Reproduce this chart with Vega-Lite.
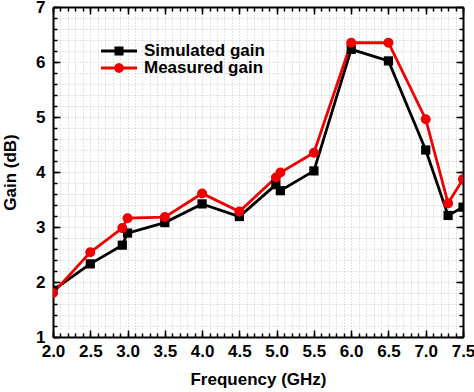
{
  "$schema": "https://vega.github.io/schema/vega-lite/v6.json",
  "width": 410,
  "height": 330,
  "autosize": {"type": "none"},
  "padding": {"left": 53, "top": 7, "right": 11, "bottom": 55},
  "background": "white",
  "config": {
    "view": {"stroke": null},
    "font": "Liberation Sans",
    "axis": {"labelFont": "Liberation Sans", "titleFont": "Liberation Sans", "labelFontWeight": "bold", "titleFontWeight": "bold", "labelColor": "black", "titleColor": "black", "labelFontSize": 17, "titleFontSize": 17, "domainColor": "black", "tickColor": "black", "domainWidth": 2, "tickWidth": 1.5, "labelFlush": false}
  },
  "data": {"values": [
    {"f": 2.0, "g": 1.85, "s": "Simulated gain"},
    {"f": 2.5, "g": 2.33, "s": "Simulated gain"},
    {"f": 2.93, "g": 2.67, "s": "Simulated gain"},
    {"f": 3.0, "g": 2.89, "s": "Simulated gain"},
    {"f": 3.5, "g": 3.08, "s": "Simulated gain"},
    {"f": 4.0, "g": 3.42, "s": "Simulated gain"},
    {"f": 4.5, "g": 3.19, "s": "Simulated gain"},
    {"f": 4.99, "g": 3.77, "s": "Simulated gain"},
    {"f": 5.05, "g": 3.66, "s": "Simulated gain"},
    {"f": 5.5, "g": 4.02, "s": "Simulated gain"},
    {"f": 6.0, "g": 6.23, "s": "Simulated gain"},
    {"f": 6.5, "g": 6.02, "s": "Simulated gain"},
    {"f": 7.0, "g": 4.40, "s": "Simulated gain"},
    {"f": 7.3, "g": 3.21, "s": "Simulated gain"},
    {"f": 7.5, "g": 3.36, "s": "Simulated gain"},
    {"f": 2.0, "g": 1.80, "s": "Measured gain"},
    {"f": 2.5, "g": 2.54, "s": "Measured gain"},
    {"f": 2.93, "g": 2.98, "s": "Measured gain"},
    {"f": 3.0, "g": 3.16, "s": "Measured gain"},
    {"f": 3.5, "g": 3.18, "s": "Measured gain"},
    {"f": 4.0, "g": 3.61, "s": "Measured gain"},
    {"f": 4.5, "g": 3.28, "s": "Measured gain"},
    {"f": 4.99, "g": 3.90, "s": "Measured gain"},
    {"f": 5.05, "g": 3.99, "s": "Measured gain"},
    {"f": 5.5, "g": 4.35, "s": "Measured gain"},
    {"f": 6.0, "g": 6.35, "s": "Measured gain"},
    {"f": 6.5, "g": 6.35, "s": "Measured gain"},
    {"f": 7.0, "g": 4.96, "s": "Measured gain"},
    {"f": 7.3, "g": 3.43, "s": "Measured gain"},
    {"f": 7.5, "g": 3.87, "s": "Measured gain"}
  ]},
  "resolve": {"axis": {"x": "independent", "y": "independent"}},
  "layer": [
    {
      "mark": {"type": "line", "strokeOpacity": 0},
      "encoding": {
        "x": {"field": "f", "type": "quantitative", "scale": {"domain": [2, 7.5], "nice": false, "zero": false},
          "axis": {"orient": "bottom", "values": [2.0,2.1,2.2,2.3,2.4,2.5,2.6,2.7,2.8,2.9,3.0,3.1,3.2,3.3,3.4,3.5,3.6,3.7,3.8,3.9,4.0,4.1,4.2,4.3,4.4,4.5,4.6,4.7,4.8,4.9,5.0,5.1,5.2,5.3,5.4,5.5,5.6,5.7,5.8,5.9,6.0,6.1,6.2,6.3,6.4,6.5,6.6,6.7,6.8,6.9,7.0,7.1,7.2,7.3,7.4,7.5], "grid": true, "gridColor": "#c8c8c8", "gridDash": [1, 2], "gridWidth": 1, "tickSize": -4, "labels": false, "domain": false, "title": null}},
        "y": {"field": "g", "type": "quantitative", "scale": {"domain": [1, 7], "nice": false, "zero": false},
          "axis": {"orient": "left", "values": [1,1.2,1.4,1.6,1.8,2,2.2,2.4,2.6,2.8,3,3.2,3.4,3.6,3.8,4,4.2,4.4,4.6,4.8,5,5.2,5.4,5.6,5.8,6,6.2,6.4,6.6,6.8,7], "grid": true, "gridColor": "#c8c8c8", "gridDash": [1, 2], "gridWidth": 1, "tickSize": -4, "labels": false, "domain": false, "title": null}},
        "detail": {"field": "s"}
      }
    },
    {
      "mark": {"type": "line", "strokeOpacity": 0},
      "encoding": {
        "x": {"field": "f", "type": "quantitative",
          "axis": {"orient": "top", "values": [2.0,2.1,2.2,2.3,2.4,2.5,2.6,2.7,2.8,2.9,3.0,3.1,3.2,3.3,3.4,3.5,3.6,3.7,3.8,3.9,4.0,4.1,4.2,4.3,4.4,4.5,4.6,4.7,4.8,4.9,5.0,5.1,5.2,5.3,5.4,5.5,5.6,5.7,5.8,5.9,6.0,6.1,6.2,6.3,6.4,6.5,6.6,6.7,6.8,6.9,7.0,7.1,7.2,7.3,7.4,7.5], "grid": false, "tickSize": -4, "labels": false, "domain": true, "title": null}},
        "y": {"field": "g", "type": "quantitative",
          "axis": {"orient": "right", "values": [1,1.2,1.4,1.6,1.8,2,2.2,2.4,2.6,2.8,3,3.2,3.4,3.6,3.8,4,4.2,4.4,4.6,4.8,5,5.2,5.4,5.6,5.8,6,6.2,6.4,6.6,6.8,7], "grid": false, "tickSize": -4, "labels": false, "domain": true, "title": null}},
        "detail": {"field": "s"}
      }
    },
    {
      "mark": {"type": "line", "strokeOpacity": 0},
      "encoding": {
        "x": {"field": "f", "type": "quantitative",
          "axis": {"orient": "top", "values": [2.0,2.5,3.0,3.5,4.0,4.5,5.0,5.5,6.0,6.5,7.0,7.5], "grid": false, "tickSize": -7, "labels": false, "domain": false, "title": null}},
        "y": {"field": "g", "type": "quantitative",
          "axis": {"orient": "right", "values": [1,2,3,4,5,6,7], "grid": false, "tickSize": -7, "labels": false, "domain": false, "title": null}},
        "detail": {"field": "s"}
      }
    },
    {
      "mark": {"type": "line", "strokeWidth": 2.8, "clip": true},
      "encoding": {
        "x": {"field": "f", "type": "quantitative",
          "axis": {"orient": "bottom", "values": [2.0,2.5,3.0,3.5,4.0,4.5,5.0,5.5,6.0,6.5,7.0,7.5], "format": ".1f", "grid": false, "tickSize": -7, "labelPadding": 13, "domain": true, "title": "Frequency (GHz)", "titlePadding": 12}},
        "y": {"field": "g", "type": "quantitative",
          "axis": {"orient": "left", "values": [1,2,3,4,5,6,7], "format": "d", "grid": false, "tickSize": -7, "labelPadding": 15, "domain": true, "title": "Gain (dB)", "titlePadding": 16}},
        "color": {"field": "s", "type": "nominal", "sort": ["Simulated gain", "Measured gain"],
          "scale": {"domain": ["Simulated gain", "Measured gain"], "range": ["#000000", "#ee0000"]},
          "legend": {"title": null, "orient": "none", "legendX": 57, "legendY": 35, "padding": 0, "symbolSize": 324, "symbolStrokeWidth": 0, "labelOffset": 16, "rowPadding": -9, "labelFont": "Liberation Sans", "labelFontWeight": "bold", "labelFontSize": 17, "labelColor": "black"}},
        "order": {"field": "f"}
      }
    },
    {
      "transform": [{"filter": "datum.s === 'Simulated gain'"}],
      "mark": {"type": "point", "filled": true, "shape": "square", "size": 85, "opacity": 1, "color": "#000000", "clip": true},
      "encoding": {
        "x": {"field": "f", "type": "quantitative", "axis": {"orient": "bottom", "labels": false, "ticks": false, "domain": false, "grid": false, "title": null}},
        "y": {"field": "g", "type": "quantitative", "axis": {"orient": "left", "labels": false, "ticks": false, "domain": false, "grid": false, "title": null}}
      }
    },
    {
      "transform": [{"filter": "datum.s === 'Measured gain'"}],
      "mark": {"type": "point", "filled": true, "shape": "circle", "size": 100, "opacity": 1, "color": "#ee0000", "clip": true},
      "encoding": {
        "x": {"field": "f", "type": "quantitative", "axis": {"orient": "bottom", "labels": false, "ticks": false, "domain": false, "grid": false, "title": null}},
        "y": {"field": "g", "type": "quantitative", "axis": {"orient": "left", "labels": false, "ticks": false, "domain": false, "grid": false, "title": null}}
      }
    },
    {
      "transform": [{"filter": "datum.g > 100"}],
      "mark": {"type": "point", "filled": true, "opacity": 1},
      "encoding": {
        "x": {"field": "f", "type": "quantitative", "axis": {"orient": "bottom", "labels": false, "ticks": false, "domain": false, "grid": false, "title": null}},
        "y": {"field": "g", "type": "quantitative", "axis": {"orient": "left", "labels": false, "ticks": false, "domain": false, "grid": false, "title": null}},
        "color": {"field": "s", "type": "nominal", "legend": null},
        "shape": {"field": "s", "type": "nominal",
          "scale": {"domain": ["Simulated gain", "Measured gain"], "range": ["M-2,-0.16H2V0.16H-2Z M-0.5,-0.5H0.5V0.5H-0.5Z", "M-2,-0.16H2V0.16H-2Z M0.55,0L0.476,0.275L0.275,0.476L0,0.55L-0.275,0.476L-0.476,0.275L-0.55,0L-0.476,-0.275L-0.275,-0.476L0,-0.55L0.275,-0.476L0.476,-0.275Z"]},
          "legend": null}
      }
    }
  ]
}
